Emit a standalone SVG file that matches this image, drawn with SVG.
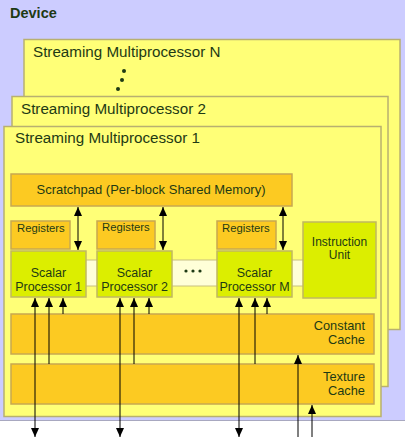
<svg xmlns="http://www.w3.org/2000/svg" width="405" height="437" viewBox="0 0 405 437">
<defs>
<marker id="ah" viewBox="0 0 9 8" refX="9" refY="4" markerWidth="9" markerHeight="8" orient="auto-start-reverse" markerUnits="userSpaceOnUse">
<path d="M0,0 L9,4 L0,8 z" fill="#000"/>
</marker>
<style>
text{font-family:"Liberation Sans",Arial,sans-serif;fill:#1e3a14}
.sm{fill:#ffff77;stroke:#b8b070;stroke-width:1.5}
.mem{fill:#fcca22;stroke:#c8a850;stroke-width:1.5}
.sp{fill:#dcee00;stroke:#c0b860;stroke-width:1.5}
.band{fill:#ffffd8;stroke:#c8c080;stroke-width:1}
.t14{font-size:15.2px}
.t13{font-size:12.5px}
.tc{font-size:12.8px}
.t12{font-size:11.3px}
.c{stroke:#000;stroke-width:1;fill:none}
</style>
</defs>
<rect x="0" y="0" width="405" height="421" fill="#ccccff"/>
<rect x="0" y="421" width="405" height="16" fill="#ffffff"/>
<line x1="0" y1="420.5" x2="405" y2="420.5" stroke="#a8a8c0" stroke-width="1"/>
<text x="10" y="18" style="font-size:14.5px;font-weight:bold">Device</text>

<g id="smN">
<rect class="sm" x="24" y="39.5" width="376" height="290"/>
<text class="t14" x="33" y="57">Streaming Multiprocessor N</text>
<circle cx="124" cy="71" r="2" fill="#1e3a14"/>
<circle cx="122" cy="80" r="2" fill="#1e3a14"/>
<circle cx="118" cy="89" r="2" fill="#1e3a14"/>
</g>
<g id="sm2">
<rect class="sm" x="12" y="96.5" width="376" height="290"/>
<text class="t14" x="21" y="114">Streaming Multiprocessor 2</text>
</g>
<g id="sm1">
<rect class="sm" x="4" y="126.5" width="377" height="290"/>
<text class="t14" x="15" y="143">Streaming Multiprocessor 1</text>
</g>

<g id="scratchpad">
<rect class="mem" x="11" y="174" width="281" height="32"/>
<text x="151" y="194" text-anchor="middle" style="font-size:13px">Scratchpad  (Per-block Shared Memory)</text>
</g>

<g id="band">
<rect class="band" x="80" y="260" width="230" height="26"/>
<circle cx="186" cy="271" r="1.6" fill="#1e3a14"/>
<circle cx="193" cy="271" r="1.6" fill="#1e3a14"/>
<circle cx="200" cy="271" r="1.6" fill="#1e3a14"/>
</g>

<g id="reg1"><rect class="mem" x="11" y="221" width="59" height="28"/><text class="t12" x="17" y="232">Registers</text></g>
<g id="reg2"><rect class="mem" x="97" y="221" width="58" height="28"/><text class="t12" x="102" y="231">Registers</text></g>
<g id="regM"><rect class="mem" x="217" y="221" width="59" height="28"/><text class="t12" x="222" y="232">Registers</text></g>

<g id="sp1"><rect class="sp" x="11" y="251" width="75" height="46"/><text class="t13" text-anchor="middle"><tspan x="48.5" y="277">Scalar</tspan><tspan x="48.5" y="291">Processor 1</tspan></text></g>
<g id="sp2"><rect class="sp" x="97" y="251" width="75" height="46"/><text class="t13" text-anchor="middle"><tspan x="134.5" y="277">Scalar</tspan><tspan x="134.5" y="291">Processor 2</tspan></text></g>
<g id="spM"><rect class="sp" x="217" y="251" width="75" height="46"/><text class="t13" text-anchor="middle"><tspan x="254.5" y="277">Scalar</tspan><tspan x="254.5" y="291">Processor M</tspan></text></g>

<g id="iu"><rect class="sp" x="303" y="222" width="73" height="76"/><text class="t12" text-anchor="middle" style="font-size:12px"><tspan x="339.5" y="246">Instruction</tspan><tspan x="339.5" y="259">Unit</tspan></text></g>

<g id="constant"><rect class="mem" x="11" y="314" width="363" height="40"/><text class="tc" text-anchor="end"><tspan x="365" y="330">Constant</tspan><tspan x="365" y="344">Cache</tspan></text></g>
<g id="texture"><rect class="mem" x="11" y="364" width="363" height="40"/><text class="tc" text-anchor="end"><tspan x="365" y="381">Texture</tspan><tspan x="365" y="395">Cache</tspan></text></g>

<g id="connectors">
<line class="c" x1="78" y1="207" x2="78" y2="250" marker-start="url(#ah)" marker-end="url(#ah)"/>
<line class="c" x1="163" y1="207" x2="163" y2="250" marker-start="url(#ah)" marker-end="url(#ah)"/>
<line class="c" x1="283" y1="207" x2="283" y2="250" marker-start="url(#ah)" marker-end="url(#ah)"/>

<line class="c" x1="35" y1="298" x2="35" y2="437" marker-start="url(#ah)" marker-end="url(#ah)"/>
<line class="c" x1="49" y1="364" x2="49" y2="298" marker-end="url(#ah)"/>
<line class="c" x1="63" y1="314" x2="63" y2="298" marker-end="url(#ah)"/>

<line class="c" x1="120" y1="298" x2="120" y2="437" marker-start="url(#ah)" marker-end="url(#ah)"/>
<line class="c" x1="134" y1="364" x2="134" y2="298" marker-end="url(#ah)"/>
<line class="c" x1="149" y1="314" x2="149" y2="298" marker-end="url(#ah)"/>

<line class="c" x1="239" y1="298" x2="239" y2="437" marker-start="url(#ah)" marker-end="url(#ah)"/>
<line class="c" x1="255" y1="364" x2="255" y2="298" marker-end="url(#ah)"/>
<line class="c" x1="267" y1="314" x2="267" y2="298" marker-end="url(#ah)"/>

<line class="c" x1="298" y1="437" x2="298" y2="355" marker-end="url(#ah)"/>
<line class="c" x1="312" y1="437" x2="312" y2="405" marker-end="url(#ah)"/>
</g>
</svg>
